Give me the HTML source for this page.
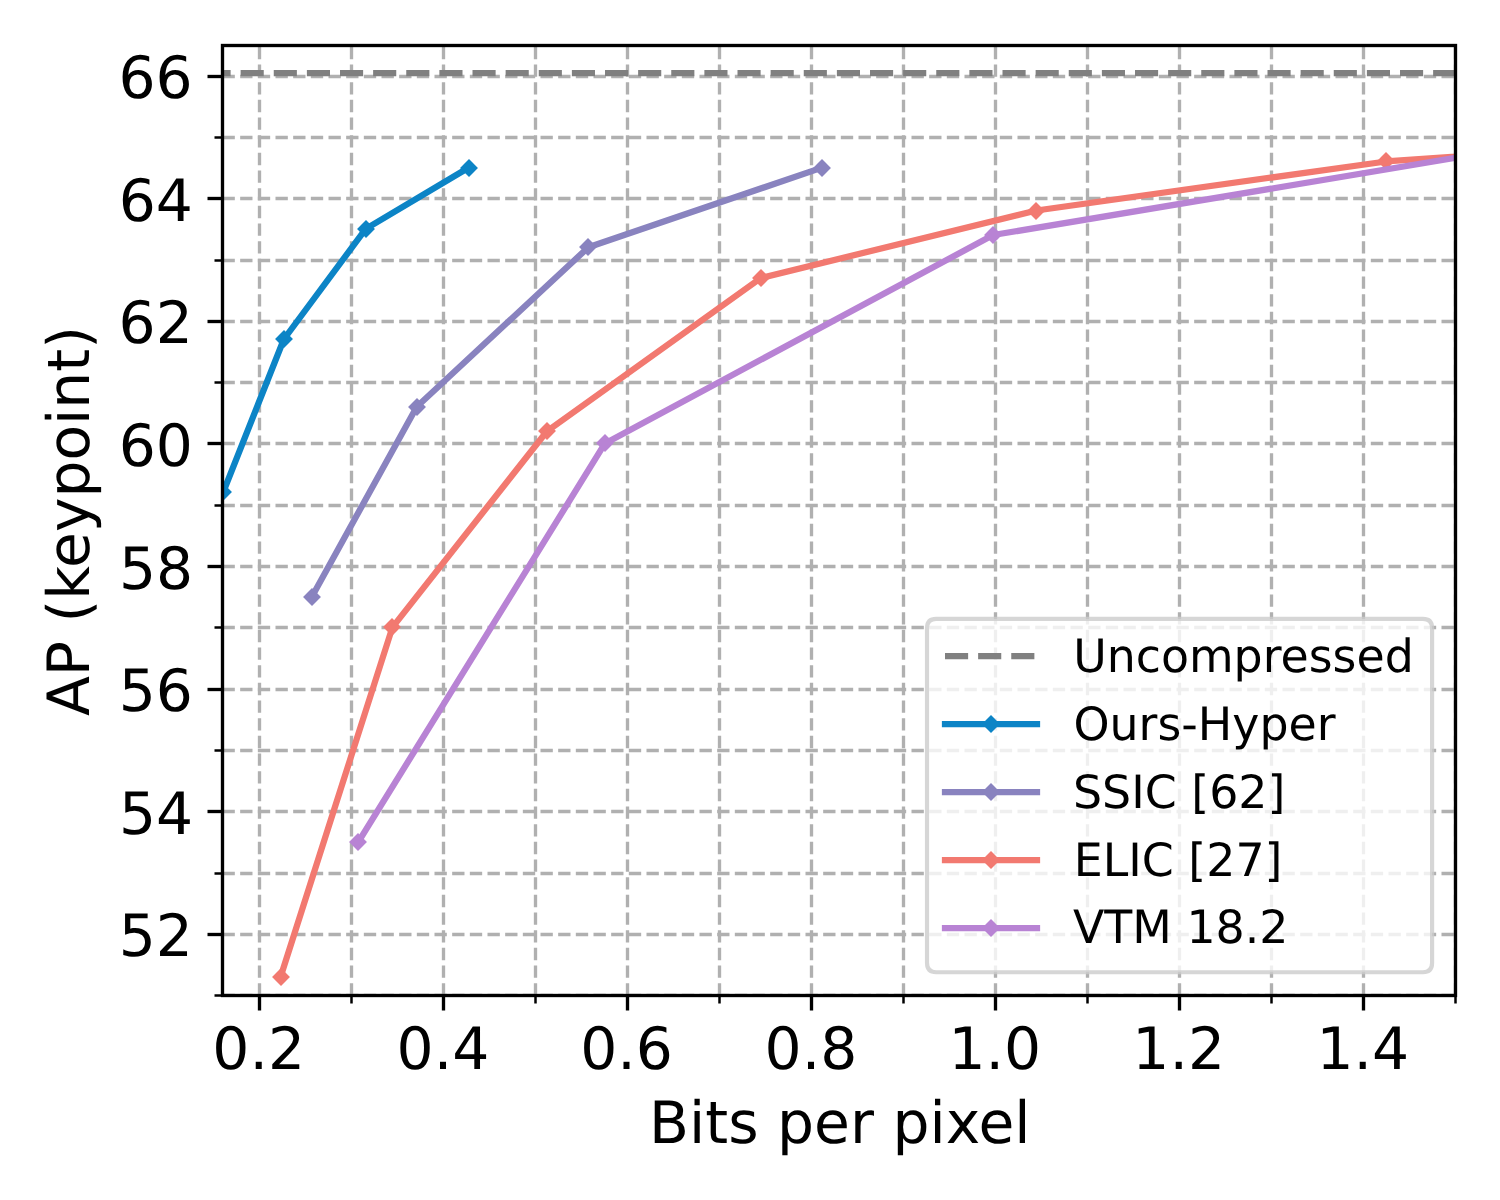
<!DOCTYPE html>
<html lang="en"><head><meta charset="utf-8"><title>AP (keypoint) vs Bits per pixel</title>
<style>html,body{margin:0;padding:0;background:#ffffff}body{width:1500px;height:1200px;overflow:hidden}svg{display:block}text{font-family:"DejaVu Sans","Liberation Sans",sans-serif;fill:#000000;text-rendering:geometricPrecision}.t14{font-size:58.3333px}.t11{font-size:45.8333px}.grid path{fill:none;stroke:#b0b0b0;stroke-width:3.3333;stroke-dasharray:12.3333 5.3333}.maj path{fill:none;stroke:#000;stroke-width:3.3333}.min path{fill:none;stroke:#000;stroke-width:2.5}.ln{fill:none;stroke-width:6.25;stroke-linejoin:round;stroke-linecap:square}</style></head><body>
<svg width="1500" height="1200" viewBox="0 0 1500 1200">
<rect x="0" y="0" width="1500" height="1200" fill="#ffffff"/>
<defs><clipPath id="ac"><rect x="222" y="45" width="1233" height="950"/></clipPath></defs>
<g class="grid" clip-path="url(#ac)">
<path d="M259.5 995.5V45.5"/>
<path d="M443.5 995.5V45.5"/>
<path d="M627.5 995.5V45.5"/>
<path d="M811.5 995.5V45.5"/>
<path d="M995.5 995.5V45.5"/>
<path d="M1179.5 995.5V45.5"/>
<path d="M1363.5 995.5V45.5"/>
<path d="M351.5 995.5V45.5"/>
<path d="M535.5 995.5V45.5"/>
<path d="M719.5 995.5V45.5"/>
<path d="M903.5 995.5V45.5"/>
<path d="M1087.5 995.5V45.5"/>
<path d="M1271.5 995.5V45.5"/>
<path d="M1455.5 995.5V45.5"/>
<path d="M222.5 934.5H1455.5"/>
<path d="M222.5 811.5H1455.5"/>
<path d="M222.5 689.5H1455.5"/>
<path d="M222.5 566.5H1455.5"/>
<path d="M222.5 443.5H1455.5"/>
<path d="M222.5 321.5H1455.5"/>
<path d="M222.5 198.5H1455.5"/>
<path d="M222.5 76.5H1455.5"/>
<path d="M222.5 995.5H1455.5"/>
<path d="M222.5 873.5H1455.5"/>
<path d="M222.5 750.5H1455.5"/>
<path d="M222.5 627.5H1455.5"/>
<path d="M222.5 505.5H1455.5"/>
<path d="M222.5 382.5H1455.5"/>
<path d="M222.5 260.5H1455.5"/>
<path d="M222.5 137.5H1455.5"/>
</g>
<g class="maj">
<path d="M259.5 995.5V1010.5"/>
<path d="M443.5 995.5V1010.5"/>
<path d="M627.5 995.5V1010.5"/>
<path d="M811.5 995.5V1010.5"/>
<path d="M995.5 995.5V1010.5"/>
<path d="M1179.5 995.5V1010.5"/>
<path d="M1363.5 995.5V1010.5"/>
<path d="M222.5 934.5H207.5"/>
<path d="M222.5 811.5H207.5"/>
<path d="M222.5 689.5H207.5"/>
<path d="M222.5 566.5H207.5"/>
<path d="M222.5 443.5H207.5"/>
<path d="M222.5 321.5H207.5"/>
<path d="M222.5 198.5H207.5"/>
<path d="M222.5 76.5H207.5"/>
</g><g class="min">
<path d="M351.5 995.5V1003.5"/>
<path d="M535.5 995.5V1003.5"/>
<path d="M719.5 995.5V1003.5"/>
<path d="M903.5 995.5V1003.5"/>
<path d="M1087.5 995.5V1003.5"/>
<path d="M1271.5 995.5V1003.5"/>
<path d="M1455.5 995.5V1003.5"/>
<path d="M222.5 995.5H214.5"/>
<path d="M222.5 873.5H214.5"/>
<path d="M222.5 750.5H214.5"/>
<path d="M222.5 627.5H214.5"/>
<path d="M222.5 505.5H214.5"/>
<path d="M222.5 382.5H214.5"/>
<path d="M222.5 260.5H214.5"/>
<path d="M222.5 137.5H214.5"/>
</g>
<g clip-path="url(#ac)">
<path d="M75 73H1915" fill="none" stroke="#808080" stroke-width="6.25" stroke-dasharray="23.125 10"/>
<path class="ln" stroke="#0c84c6" d="M223.128 492.498L283.848 339.245L365.727 228.903L468.767 167.602"/>
<path d="M223 483.05L231.95 492L223 500.95L214.05 492Z" fill="#0c84c6"/>
<path d="M284 330.05L292.95 339L284 347.95L275.05 339Z" fill="#0c84c6"/>
<path d="M366 220.05L374.95 229L366 237.95L357.05 229Z" fill="#0c84c6"/>
<path d="M469 159.05L477.95 168L469 176.95L460.05 168Z" fill="#0c84c6"/>
<path class="ln" stroke="#8983bf" d="M311.908 596.71L416.787 406.676L588.366 247.294L822.044 167.602"/>
<path d="M312 588.05L320.95 597L312 605.95L303.05 597Z" fill="#8983bf"/>
<path d="M417 398.05L425.95 407L417 415.95L408.05 407Z" fill="#8983bf"/>
<path d="M588 238.05L596.95 247L588 255.95L579.05 247Z" fill="#8983bf"/>
<path d="M822 159.05L830.95 168L822 176.95L813.05 168Z" fill="#8983bf"/>
<path class="ln" stroke="#f27970" d="M280.628 976.776L392.407 627.36L546.966 431.197L760.865 277.944L1036.403 210.513L1386 161.472L1822.998 130.822"/>
<path d="M281 968.05L289.95 977L281 985.95L272.05 977Z" fill="#f27970"/>
<path d="M392 618.05L400.95 627L392 635.95L383.05 627Z" fill="#f27970"/>
<path d="M547 422.05L555.95 431L547 439.95L538.05 431Z" fill="#f27970"/>
<path d="M761 269.05L769.95 278L761 286.95L752.05 278Z" fill="#f27970"/>
<path d="M1036 202.05L1044.95 211L1036 219.95L1027.05 211Z" fill="#f27970"/>
<path d="M1386 152.05L1394.95 161L1386 169.95L1377.05 161Z" fill="#f27970"/>
<path d="M1823 122.05L1831.95 131L1823 139.95L1814.05 131Z" fill="#f27970"/>
<path class="ln" stroke="#b883d4" d="M358.367 841.914L604.926 443.457L993.163 235.033L1822.998 96.493"/>
<path d="M358 833.05L366.95 842L358 850.95L349.05 842Z" fill="#b883d4"/>
<path d="M605 434.05L613.95 443L605 451.95L596.05 443Z" fill="#b883d4"/>
<path d="M993 226.05L1001.95 235L993 243.95L984.05 235Z" fill="#b883d4"/>
<path d="M1823 87.05L1831.95 96L1823 104.95L1814.05 96Z" fill="#b883d4"/>
</g>
<rect x="222.5" y="45.5" width="1233" height="950" fill="none" stroke="#000" stroke-width="3.3333"/>
<path d="M936.2 972.25L1422.917 972.25Q1432.083 972.25 1432.083 963.083L1432.083 628.083Q1432.083 618.917 1422.917 618.917L936.2 618.917Q927.033 618.917 927.033 628.083L927.033 963.083Q927.033 972.25 936.2 972.25Z" fill="#ffffff" fill-opacity="0.8" stroke="#cccccc" stroke-opacity="0.8" stroke-width="4.1667" stroke-linejoin="miter"/>
<path d="M945 656H1036" fill="none" stroke="#808080" stroke-width="6.25" stroke-dasharray="23.125 10"/>
<path class="ln" d="M945 724H1037" stroke="#0c84c6"/>
<path d="M991 715.05L999.95 724L991 732.95L982.05 724Z" fill="#0c84c6"/>
<path class="ln" d="M945 792H1037" stroke="#8983bf"/>
<path d="M991 783.05L999.95 792L991 800.95L982.05 792Z" fill="#8983bf"/>
<path class="ln" d="M945 860H1037" stroke="#f27970"/>
<path d="M991 851.05L999.95 860L991 868.95L982.05 860Z" fill="#f27970"/>
<path class="ln" d="M945 928H1037" stroke="#b883d4"/>
<path d="M991 919.05L999.95 928L991 936.95L982.05 928Z" fill="#b883d4"/>
<text class="t14" text-anchor="middle" x="258.698" y="1069">0.2</text>
<text class="t14" text-anchor="middle" x="442.967" y="1069">0.4</text>
<text class="t14" text-anchor="middle" x="626.576" y="1069">0.6</text>
<text class="t14" text-anchor="middle" x="810.914" y="1069">0.8</text>
<text class="t14" text-anchor="middle" x="994.843" y="1069">1.0</text>
<text class="t14" text-anchor="middle" x="1178.652" y="1069">1.2</text>
<text class="t14" text-anchor="middle" x="1362.851" y="1069">1.4</text>
<text class="t14" text-anchor="middle" x="839.824" y="1143">Bits per pixel</text>
<text class="t14" text-anchor="end" x="192.972" y="956">52</text>
<text class="t14" text-anchor="end" x="193.172" y="834">54</text>
<text class="t14" text-anchor="end" x="192.912" y="711">56</text>
<text class="t14" text-anchor="end" x="193.132" y="589">58</text>
<text class="t14" text-anchor="end" x="192.972" y="466">60</text>
<text class="t14" text-anchor="end" x="192.782" y="343">62</text>
<text class="t14" text-anchor="end" x="192.982" y="221">64</text>
<text class="t14" text-anchor="end" x="192.682" y="98">66</text>
<text class="t14" text-anchor="middle" x="88.794" y="521.083" transform="rotate(-90 88.794 521.083)">AP (keypoint)</text>
<text class="t11" text-anchor="start" x="1073.138" y="672">Uncompressed</text>
<text class="t11" text-anchor="start" x="1073.438" y="740">Ours-Hyper</text>
<text class="t11" text-anchor="start" x="1073.008" y="808">SSIC [62]</text>
<text class="t11" text-anchor="start" x="1073.788" y="876">ELIC [27]</text>
<text class="t11" text-anchor="start" x="1073.018" y="943">VTM 18.2</text>
</svg></body></html>
